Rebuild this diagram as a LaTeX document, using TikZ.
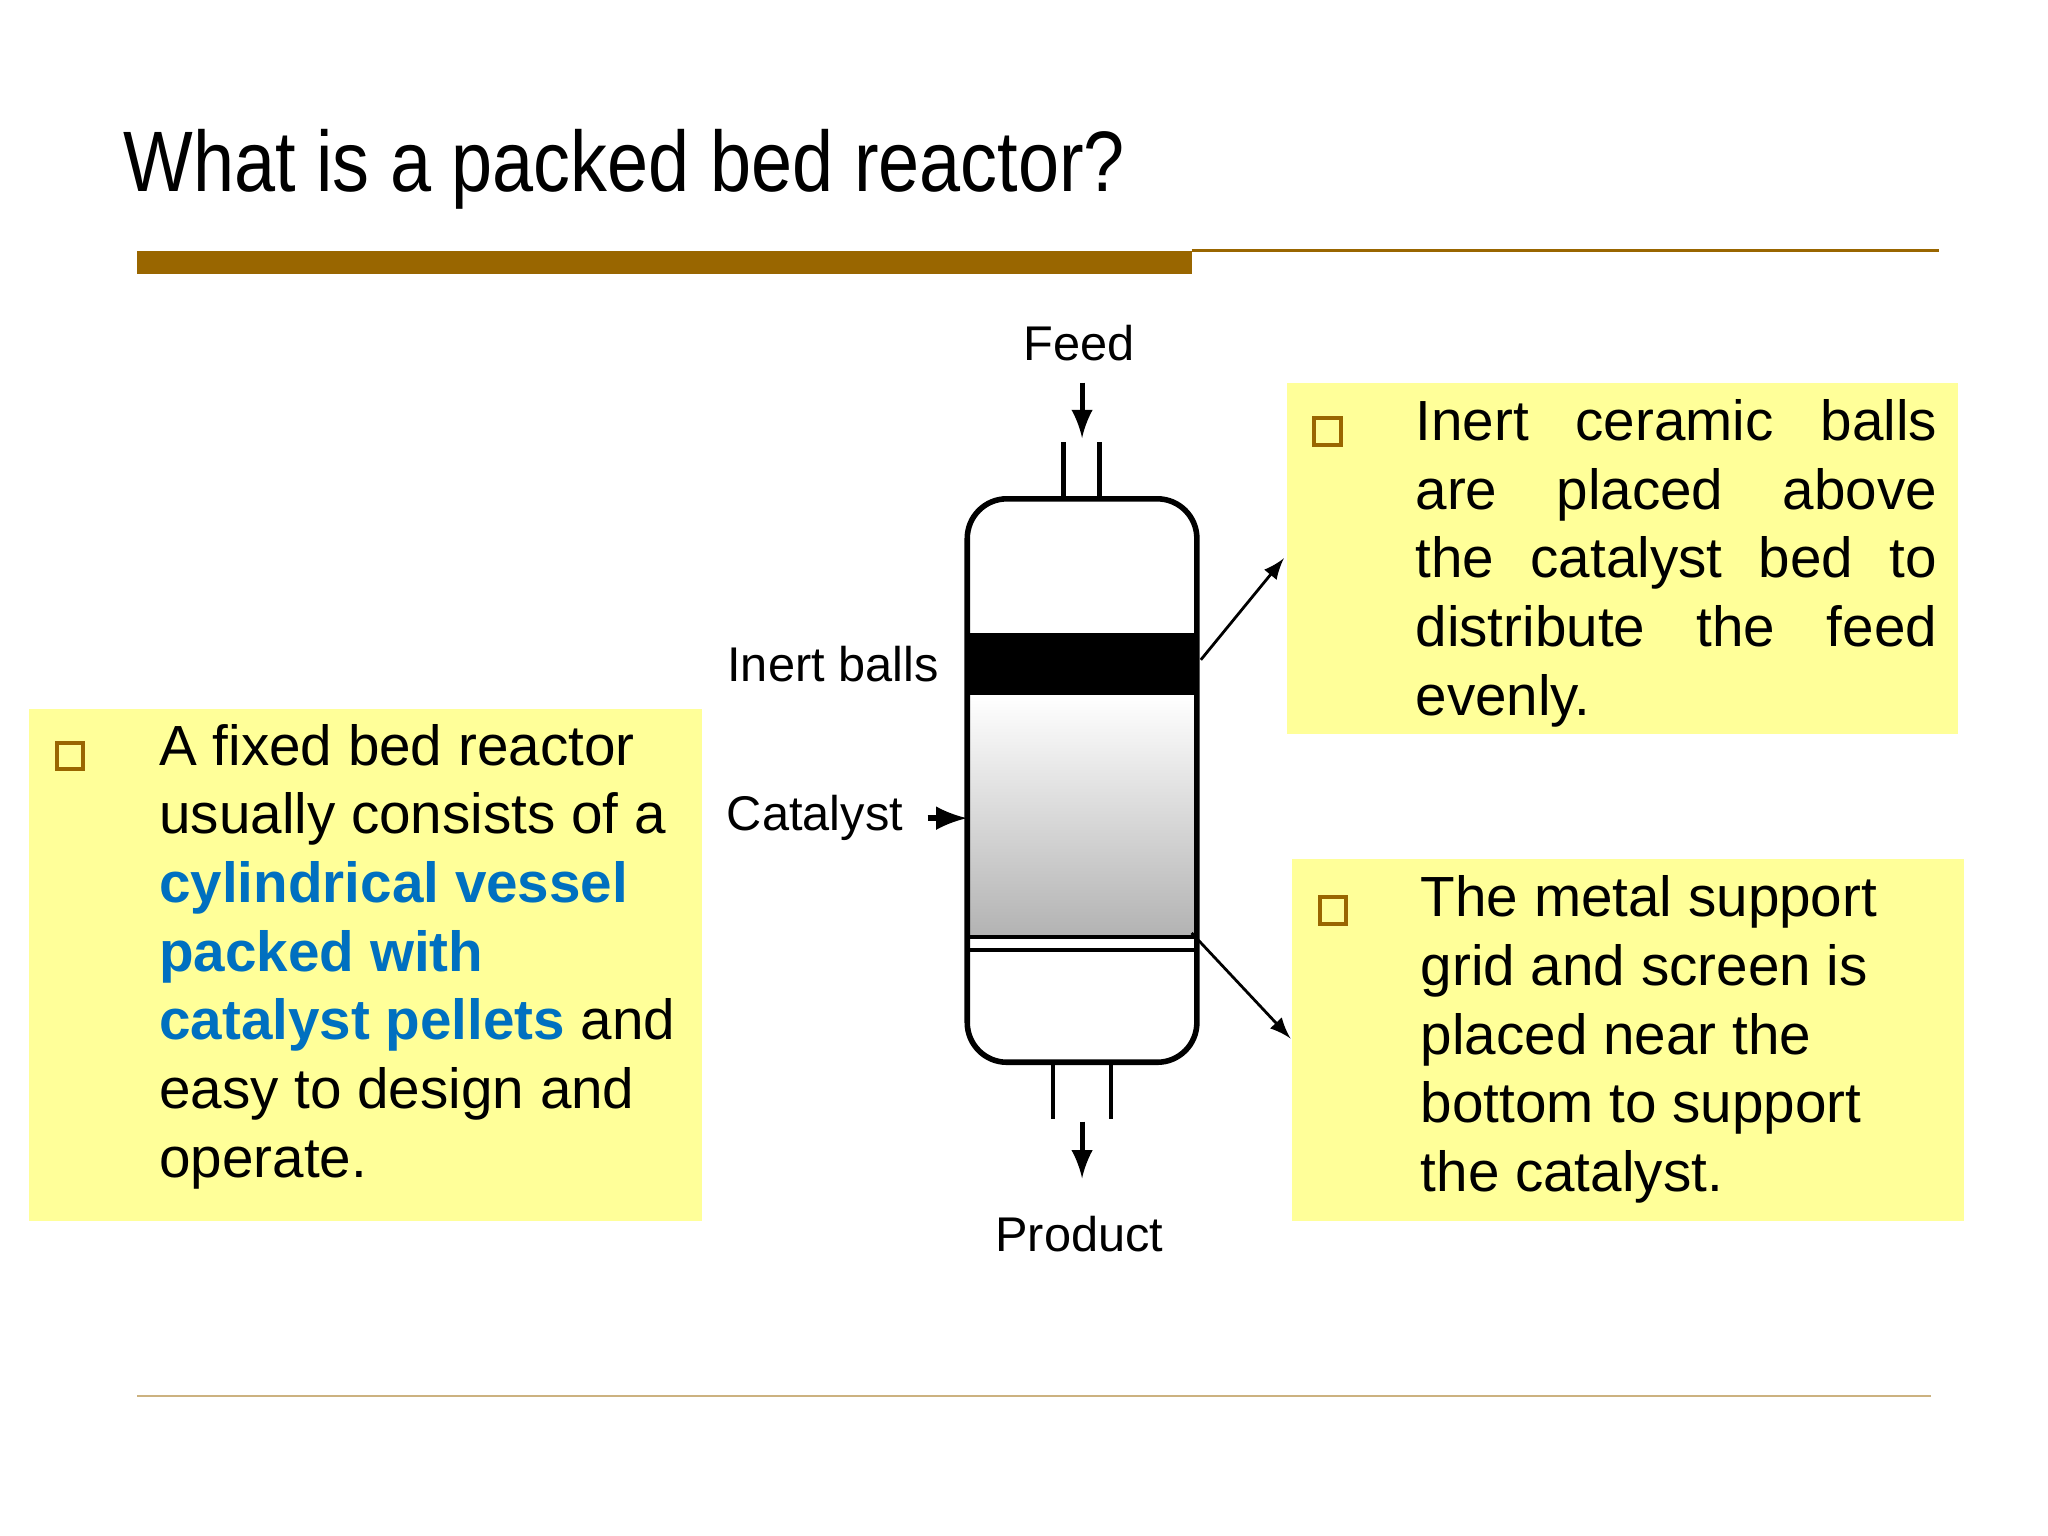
\documentclass[tikz,border=0pt]{standalone}
\usepackage{fontspec}
\setmainfont{Liberation Sans}
\definecolor{brn}{RGB}{153,102,0}
\definecolor{ylw}{RGB}{255,255,153}
\definecolor{blu}{RGB}{0,112,192}
\begin{document}
\begin{tikzpicture}[x=0.01cm,y=-0.01cm,
  body/.style={font=\fontsize{12.2pt}{14.8pt}\selectfont, anchor=north west, inner sep=0pt},
  lbl/.style={font=\fontsize{10.5pt}{12pt}\selectfont, inner sep=0pt},
  bul/.style={draw=brn, line width=0.9pt, minimum size=0.2cm, inner sep=0pt},
  arr/.style={-latex, line width=0.6pt}]
\useasboundingbox (0,0) rectangle (1552,1164);
% title
\node[anchor=west, inner sep=0pt, font=\fontsize{18.5pt}{20pt}\selectfont] (title) at (93,128) {\scalebox{0.86}[1]{What is a packed bed reactor?}};
\fill[brn] (104,190) rectangle (903,208);
\draw[brn, line width=0.6pt] (903,190) -- (1469,190);
\draw[brn!50, line width=0.4pt] (104,1058) -- (1463,1058);
% boxes
\fill[ylw] (22,537) rectangle (532,925);
\fill[ylw] (975,290) rectangle (1484,556);
\fill[ylw] (979,651) rectangle (1488,925);
\node[bul] (b1) at (53,573) {};
\node[bul] (b2) at (1006,327) {};
\node[bul] (b3) at (1010,690) {};
\node[body, align=left] (t1) at (120,548) {A fixed bed reactor\\usually consists of a\\\textcolor{blu}{\textbf{cylindrical vessel}}\\\textcolor{blu}{\textbf{packed with}}\\\textcolor{blu}{\textbf{catalyst pellets}} and\\easy to design and\\operate.};
\node[body, text width=3.95cm, align=justify] (t2) at (1072,302) {Inert ceramic balls are placed above the catalyst bed to distribute the feed evenly.};
\node[body, align=left] (t3) at (1076,663) {The metal support\\grid and screen is\\placed near the\\bottom to support\\the catalyst.};
% reactor
\shade[top color=white, bottom color=black!30] (735,527) rectangle (905,710);
\fill[black] (735,480) rectangle (907,527);
\draw[line width=1.2pt, rounded corners=0.3cm] (733,378) rectangle (907,805);
\draw[line width=1pt] (735,710) -- (905,710);
\draw[line width=1pt] (735,720) -- (905,720);
\draw[line width=1pt] (806,335) -- (806,378) (833,335) -- (833,378);
\draw[line width=1pt] (798,805) -- (798,848) (842,805) -- (842,848);
\node[lbl] (feed) at (818,260) {Feed};
\node[lbl] (prod) at (818,935) {Product};
\coordinate (fa) at (820,290); \coordinate (fb) at (820,332);
\draw[arr, line width=1.1pt] (fa) -- (fb);
\coordinate (pa) at (820,850); \coordinate (pb) at (820,893);
\draw[arr, line width=1.1pt] (pa) -- (pb);
\node[lbl, anchor=east] (inert) at (712,503) {Inert balls};
\node[lbl, anchor=east] (cat) at (685,620) {Catalyst};
\coordinate (ca) at (703,620); \coordinate (cb) at (733,620);
\draw[arr, line width=1.3pt] (ca) -- (cb);
\coordinate (i1) at (910,500); \coordinate (i2) at (973,423);
\draw[arr] (i1) -- (i2);
\coordinate (g1) at (903,707); \coordinate (g2) at (978,787);
\draw[arr] (g1) -- (g2);
\end{tikzpicture}
\end{document}
